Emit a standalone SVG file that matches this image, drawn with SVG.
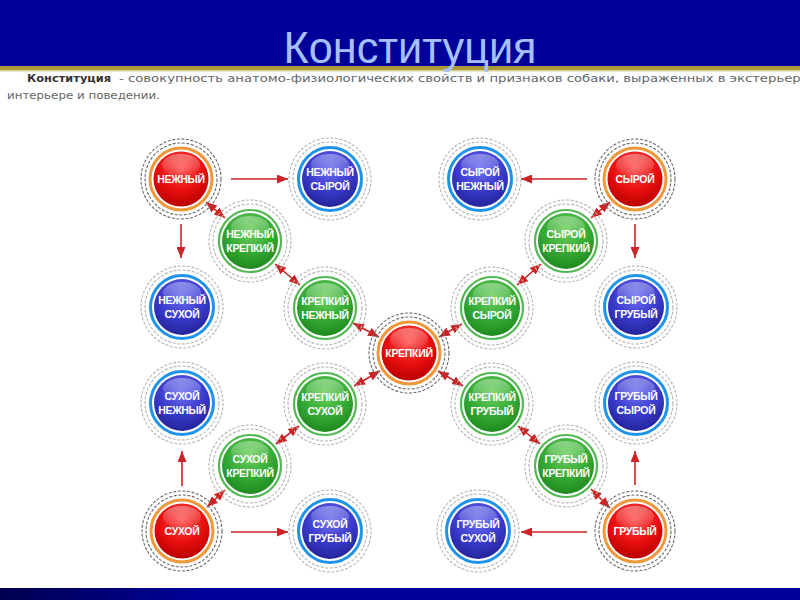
<svg xmlns="http://www.w3.org/2000/svg" xmlns:xlink="http://www.w3.org/1999/xlink" width="800" height="600" viewBox="0 0 800 600">
<style>
.t{font-family:"Liberation Sans",Arial,sans-serif;font-weight:bold;font-size:10.5px;letter-spacing:-0.3px;fill:#ffffff;text-anchor:middle}
.dk{fill:none;stroke:#6a6a6a;stroke-width:1.1;stroke-dasharray:3 1.6}
.lt{fill:none;stroke:#b4b4b4;stroke-width:1.1;stroke-dasharray:3 1.6}
.body{font-family:"DejaVu Sans",Verdana,sans-serif;font-size:10.5px;fill:#666666}
</style>
<defs>
<radialGradient id="gr" cx="50%" cy="30%" r="70%">
<stop offset="0" stop-color="#ff5a5a"/><stop offset="0.55" stop-color="#ea1010"/><stop offset="1" stop-color="#bb0000"/>
</radialGradient>
<radialGradient id="gb" cx="50%" cy="30%" r="70%">
<stop offset="0" stop-color="#7070f0"/><stop offset="0.55" stop-color="#3c3cce"/><stop offset="1" stop-color="#24249c"/>
</radialGradient>
<radialGradient id="gg" cx="50%" cy="30%" r="70%">
<stop offset="0" stop-color="#70d060"/><stop offset="0.55" stop-color="#36ac36"/><stop offset="1" stop-color="#1f8a1f"/>
</radialGradient>
<linearGradient id="hl" x1="0" y1="0" x2="0" y2="1">
<stop offset="0" stop-color="#ffffff" stop-opacity="0.35"/><stop offset="1" stop-color="#ffffff" stop-opacity="0"/>
</linearGradient>
<linearGradient id="bot" x1="0" y1="0" x2="1" y2="0">
<stop offset="0" stop-color="#000050"/><stop offset="0.25" stop-color="#000099"/><stop offset="1" stop-color="#000099"/>
</linearGradient>
<g id="red">
<circle r="40" class="dk"/><circle r="36" class="dk"/>
<circle r="31" fill="#ffffff" stroke="#f0983a" stroke-width="3"/>
<circle r="27.5" fill="url(#gr)"/>
<ellipse cy="-14" rx="19" ry="11" fill="url(#hl)"/>
</g>
<g id="blue">
<circle r="41" class="lt"/><circle r="37" class="lt"/>
<circle r="31.5" fill="#ffffff" stroke="#1e93ea" stroke-width="3"/>
<circle r="28" fill="url(#gb)"/>
<ellipse cy="-14" rx="19" ry="11" fill="url(#hl)"/>
</g>
<g id="green">
<circle r="41" class="lt"/><circle r="37" class="lt"/>
<circle r="31" fill="#ffffff" stroke="#52b852" stroke-width="2.2"/>
<circle r="28" fill="url(#gg)"/>
<ellipse cy="-14" rx="19" ry="11" fill="url(#hl)"/>
</g>
<marker id="ah" markerUnits="userSpaceOnUse" markerWidth="11" markerHeight="9" refX="11" refY="4.5" orient="auto-start-reverse">
<path d="M0,0 L11,4.5 L0,9 Z" fill="#cc2424"/>
</marker>
</defs>
<rect x="0" y="0" width="800" height="600" fill="#ffffff"/>
<rect x="0" y="0" width="800" height="66" fill="#000099"/>
<rect x="0" y="66" width="800" height="4" fill="#aa9a3c"/>
<rect x="0" y="70" width="800" height="1.5" fill="#d8d090"/>
<text x="410" y="63" font-family="Liberation Sans,Arial,sans-serif" font-size="45" fill="#a6c0ff" text-anchor="middle" textLength="253" lengthAdjust="spacingAndGlyphs">Конституция</text>
<text class="body" y="82"><tspan x="27" font-weight="bold" fill="#333333" textLength="84" lengthAdjust="spacingAndGlyphs">Конституция</tspan><tspan x="119" textLength="694" lengthAdjust="spacingAndGlyphs">- совокупность анатомо-физиологических свойств и признаков собаки, выраженных в экстерьере,</tspan></text>
<text class="body" x="7" y="99" textLength="153" lengthAdjust="spacingAndGlyphs">интерьере и поведении.</text>
<rect x="0" y="588" width="800" height="12" fill="url(#bot)"/>

<g id="connectors" stroke="#cc2424" stroke-width="1.6" fill="none">
<line x1="231" y1="179" x2="288" y2="179" marker-end="url(#ah)"/>
<line x1="181" y1="224" x2="181" y2="258" marker-end="url(#ah)"/>
<line x1="587" y1="179" x2="521" y2="179" marker-end="url(#ah)"/>
<line x1="635" y1="224" x2="635" y2="258" marker-end="url(#ah)"/>
<line x1="182" y1="486" x2="182" y2="451" marker-end="url(#ah)"/>
<line x1="231" y1="532" x2="288" y2="532" marker-end="url(#ah)"/>
<line x1="587" y1="532" x2="521" y2="532" marker-end="url(#ah)"/>
<line x1="635" y1="485" x2="635" y2="451" marker-end="url(#ah)"/>
<line x1="206" y1="202" x2="225" y2="218" marker-start="url(#ah)" marker-end="url(#ah)"/>
<line x1="275" y1="264" x2="300" y2="285" marker-start="url(#ah)" marker-end="url(#ah)"/>
<line x1="353" y1="323" x2="379" y2="337" marker-start="url(#ah)" marker-end="url(#ah)"/>
<line x1="439" y1="337" x2="462" y2="324" marker-start="url(#ah)" marker-end="url(#ah)"/>
<line x1="517" y1="285" x2="541" y2="264" marker-start="url(#ah)" marker-end="url(#ah)"/>
<line x1="591" y1="218" x2="610" y2="202" marker-start="url(#ah)" marker-end="url(#ah)"/>
<line x1="380" y1="371" x2="354" y2="386" marker-start="url(#ah)" marker-end="url(#ah)"/>
<line x1="299" y1="426" x2="276" y2="444" marker-start="url(#ah)" marker-end="url(#ah)"/>
<line x1="225" y1="490" x2="207" y2="507" marker-start="url(#ah)" marker-end="url(#ah)"/>
<line x1="438" y1="371" x2="463" y2="386" marker-start="url(#ah)" marker-end="url(#ah)"/>
<line x1="518" y1="426" x2="540" y2="444" marker-start="url(#ah)" marker-end="url(#ah)"/>
<line x1="591" y1="489" x2="610" y2="508" marker-start="url(#ah)" marker-end="url(#ah)"/>
</g>

<g id="n-nezhny" transform="translate(181,179)"><use href="#red"/><text class="t" y="4">НЕЖНЫЙ</text></g>
<g id="n-nezhny-syroy" transform="translate(330,179)"><use href="#blue"/><text class="t" y="-3">НЕЖНЫЙ</text><text class="t" y="10.5">СЫРОЙ</text></g>
<g id="n-syroy-nezhny" transform="translate(480,179)"><use href="#blue"/><text class="t" y="-3">СЫРОЙ</text><text class="t" y="10.5">НЕЖНЫЙ</text></g>
<g id="n-syroy" transform="translate(635,179)"><use href="#red"/><text class="t" y="4">СЫРОЙ</text></g>
<g id="n-nezhny-krepkiy" transform="translate(250,241)"><use href="#green"/><text class="t" y="-3">НЕЖНЫЙ</text><text class="t" y="10.5">КРЕПКИЙ</text></g>
<g id="n-syroy-krepkiy" transform="translate(566,241)"><use href="#green"/><text class="t" y="-3">СЫРОЙ</text><text class="t" y="10.5">КРЕПКИЙ</text></g>
<g id="n-nezhny-sukhoy" transform="translate(182,307)"><use href="#blue"/><text class="t" y="-3">НЕЖНЫЙ</text><text class="t" y="10.5">СУХОЙ</text></g>
<g id="n-krepkiy-nezhny" transform="translate(325,308)"><use href="#green"/><text class="t" y="-3">КРЕПКИЙ</text><text class="t" y="10.5">НЕЖНЫЙ</text></g>
<g id="n-krepkiy-syroy" transform="translate(492,308)"><use href="#green"/><text class="t" y="-3">КРЕПКИЙ</text><text class="t" y="10.5">СЫРОЙ</text></g>
<g id="n-syroy-gruby" transform="translate(636,307)"><use href="#blue"/><text class="t" y="-3">СЫРОЙ</text><text class="t" y="10.5">ГРУБЫЙ</text></g>
<g id="n-krepkiy" transform="translate(409,353)"><use href="#red"/><text class="t" y="4">КРЕПКИЙ</text></g>
<g id="n-sukhoy-nezhny" transform="translate(182,403)"><use href="#blue"/><text class="t" y="-3">СУХОЙ</text><text class="t" y="10.5">НЕЖНЫЙ</text></g>
<g id="n-krepkiy-sukhoy" transform="translate(325,404)"><use href="#green"/><text class="t" y="-3">КРЕПКИЙ</text><text class="t" y="10.5">СУХОЙ</text></g>
<g id="n-krepkiy-gruby" transform="translate(492,404)"><use href="#green"/><text class="t" y="-3">КРЕПКИЙ</text><text class="t" y="10.5">ГРУБЫЙ</text></g>
<g id="n-gruby-syroy" transform="translate(636,403)"><use href="#blue"/><text class="t" y="-3">ГРУБЫЙ</text><text class="t" y="10.5">СЫРОЙ</text></g>
<g id="n-sukhoy-krepkiy" transform="translate(250,466)"><use href="#green"/><text class="t" y="-3">СУХОЙ</text><text class="t" y="10.5">КРЕПКИЙ</text></g>
<g id="n-gruby-krepkiy" transform="translate(566,466)"><use href="#green"/><text class="t" y="-3">ГРУБЫЙ</text><text class="t" y="10.5">КРЕПКИЙ</text></g>
<g id="n-sukhoy" transform="translate(182,531)"><use href="#red"/><text class="t" y="4">СУХОЙ</text></g>
<g id="n-sukhoy-gruby" transform="translate(330,531)"><use href="#blue"/><text class="t" y="-3">СУХОЙ</text><text class="t" y="10.5">ГРУБЫЙ</text></g>
<g id="n-gruby-sukhoy" transform="translate(478,531)"><use href="#blue"/><text class="t" y="-3">ГРУБЫЙ</text><text class="t" y="10.5">СУХОЙ</text></g>
<g id="n-gruby" transform="translate(635,531)"><use href="#red"/><text class="t" y="4">ГРУБЫЙ</text></g>
</svg>
